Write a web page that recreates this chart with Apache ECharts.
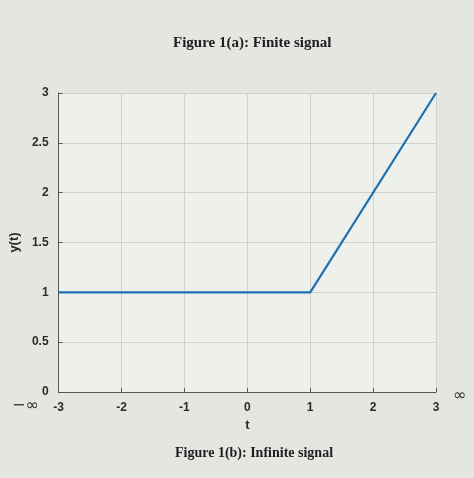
<!DOCTYPE html>
<html>
<head>
<meta charset="utf-8">
<script src="https://cdn.jsdelivr.net/npm/echarts@6/dist/echarts.min.js"></script>
<style>
  html, body { margin: 0; padding: 0; background: #e3e6e1; }
</style>
</head>
<body>
<div id="signalChart" style="width: 474px; height: 478px"></div>
<script>
// signal y(t): flat at 1 until t = 1, then ramps up to 3 at t = 3
const tValues = [-3, 1, 3]
const yValues = [1, 1, 3]
const topCaption = 'Figure 1(a): Finite signal'
const bottomCaption = 'Figure 1(b): Infinite signal'

const chartDom = document.getElementById('signalChart')
const myChart = echarts.init(chartDom)

const labelFont = { fontFamily: 'Liberation Sans', fontSize: 12, color: '#2b2b2b', fontWeight: 'bold' }

const option = {
    backgroundColor: '#e3e6e1',
    animation: false,
    title: [
        {
            text: topCaption,
            left: 168,
            top: 31,
            textStyle: { fontFamily: 'Liberation Serif', fontSize: 15, fontWeight: 'bold', color: '#1e1e1e' },
        },
        {
            text: bottomCaption,
            left: 170,
            top: 441,
            textStyle: { fontFamily: 'Liberation Serif', fontSize: 14, fontWeight: 'bold', color: '#1e1e1e' },
        },
    ],
    grid: {
        left: 57,
        right: 38,
        top: 93,
        bottom: 86,
        show: true,
        backgroundColor: '#eef0ec',
        borderWidth: 0,
    },
    xAxis: {
        type: 'value',
        min: -3,
        max: 3,
        interval: 1,
        name: 't',
        nameLocation: 'middle',
        nameGap: 25,
        nameTextStyle: { ...labelFont, fontSize: 13 },
        axisLine: { show: true, onZero: false, lineStyle: { color: '#555', width: 1 } },
        axisTick: { show: true, inside: true, length: 4, lineStyle: { color: '#555' } },
        axisLabel: { ...labelFont, margin: 10 },
        splitLine: { show: true, lineStyle: { color: '#cfd2cc', width: 1 } },
    },
    yAxis: {
        type: 'value',
        min: 0,
        max: 3,
        interval: 0.5,
        name: 'y(t)',
        nameLocation: 'middle',
        nameGap: 27,
        nameTextStyle: { ...labelFont, fontSize: 13 },
        axisLine: { show: true, onZero: false, lineStyle: { color: '#555', width: 1 } },
        axisTick: { show: true, inside: true, length: 4, lineStyle: { color: '#555' } },
        axisLabel: { ...labelFont, margin: 10 },
        splitLine: { show: true, lineStyle: { color: '#cfd2cc', width: 1 } },
    },
    graphic: [
        {
            type: 'text',
            left: 12,
            top: 398,
            style: { text: '−∞', font: '16px "DejaVu Sans"', fill: '#333' },
        },
        {
            type: 'text',
            left: 453,
            top: 388,
            style: { text: '∞', font: '16px "DejaVu Sans"', fill: '#333' },
        },
    ],
    series: [
        {
            name: 'y(t)',
            type: 'line',
            showSymbol: false,
            lineStyle: { color: '#1f6fb5', width: 2.2 },
            data: tValues.map((t, i) => [t, yValues[i]]),
        },
    ],
}

option && myChart.setOption(option)
</script>
</body>
</html>
